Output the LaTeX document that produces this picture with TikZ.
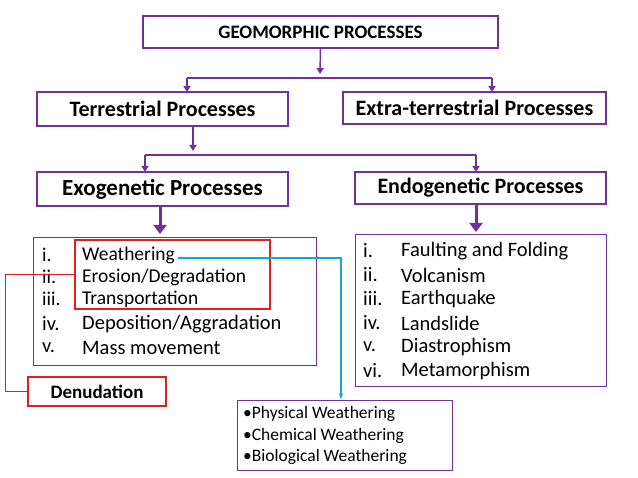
\documentclass[tikz,border=0pt]{standalone}
\usepackage{fontspec}
\setmainfont{Carlito}
\usetikzlibrary{arrows.meta}
\definecolor{pur}{HTML}{7030A0}
\definecolor{red1}{HTML}{E02020}
\definecolor{cy}{HTML}{10A8E0}
\begin{document}
\begin{tikzpicture}[x=1pt,y=-1pt,
 hbox/.style={draw=pur,line width=2.2pt,font=\bfseries\fontsize{22}{24}\selectfont,inner sep=0pt},
 lbox/.style={draw=pur,line width=0.8pt},
 conn/.style={draw=pur,line width=1.5pt,-{Triangle[length=6pt,width=7pt]}},
 item/.style={anchor=west,font=\fontsize{20.5}{22}\selectfont,inner sep=0pt}]
\useasboundingbox (0,0) rectangle (638,478);
\node[hbox,minimum width=355pt,minimum height=32pt,font=\bfseries\fontsize{19}{21}\selectfont] (geo) at (320.5,32) {GEOMORPHIC PROCESSES};
\node[hbox,minimum width=251pt,minimum height=34pt] (ter) at (162.5,109) {Terrestrial Processes};
\node[hbox,minimum width=263pt,minimum height=32pt] (ext) at (474.5,108) {Extra-terrestrial Processes};
\node[hbox,minimum width=251pt,minimum height=34pt,font=\bfseries\fontsize{23}{25}\selectfont] (exo) at (162.5,189) {Exogenetic Processes};
\node[hbox,minimum width=251pt,minimum height=32pt] (endo) at (480.5,188) {Endogenetic Processes};
\draw[conn] (geo.south) -- (320,74);
\draw[draw=pur,line width=1.5pt] (187,78) -- (492,78);
\draw[conn] (187,78) -- (187,92);
\draw[conn] (492,78) -- (492,92);
\draw[conn] (193,126) -- (193,151);
\draw[draw=pur,line width=1.5pt] (145,155) -- (476,155);
\draw[conn] (145,155) -- (145,172);
\draw[conn] (476,155) -- (476,172);
\draw[draw=pur,line width=3pt,-{Triangle[length=9pt,width=13pt]}] (160,206) -- (160,234);
\draw[draw=pur,line width=3pt,-{Triangle[length=9pt,width=13pt]}] (476,204) -- (476,232);
\node[lbox,minimum width=283pt,minimum height=128pt] (lista) at (174.5,301) {};
\node[lbox,minimum width=251pt,minimum height=152pt] (listb) at (480.5,310) {};
\foreach \n/\t/\y in {i./Weathering/255,ii./Erosion\slash Degradation/277,iii./Transportation/299}
 {\node[item,font=\fontsize{19.5}{21}\selectfont] at (42,\y) {\n}; \node[item,font=\fontsize{19.5}{21}\selectfont] at (82,\y) {\t};}
\foreach \n/\t/\y in {iv./Deposition\slash Aggradation/324,v./Mass movement/348}
 {\node[item] at (42,\y) {\n}; \node[item] at (82,\y) {\t};}
\foreach \n/\t/\y in {i./Faulting and Folding/251,ii./Volcanism/275,iii./Earthquake/299,iv./Landslide/323,v./Diastrophism/347,vi./Metamorphism/371}
 {\node[item] at (363,\y) {\n}; \node[item] at (401,\y) {\t};}
\node[draw=red1,line width=1.5pt,minimum width=195pt,minimum height=69pt,inner sep=0pt] (red) at (172.5,274.5) {};
\node[draw=red1,line width=2pt,minimum width=138pt,minimum height=29pt,inner sep=0pt,font=\bfseries\fontsize{19}{21}\selectfont] (den) at (97,391.5) {Denudation};
\draw[red1,line width=1pt] (red.west) -- (5,274.5) |- (den.west);
\node[lbox,minimum width=215pt,minimum height=70pt] (bot) at (344.5,435) {};
\foreach \t/\y in {Physical Weathering/414,Chemical Weathering/436,Biological Weathering/457}
 \node[item,font=\fontsize{17.5}{19}\selectfont] at (243,\y) {•\t};
\draw[cy,line width=1.5pt,-{Stealth[length=6pt]}] (178,258) -- (341,258) -- (341,399);
\end{tikzpicture}
\end{document}
